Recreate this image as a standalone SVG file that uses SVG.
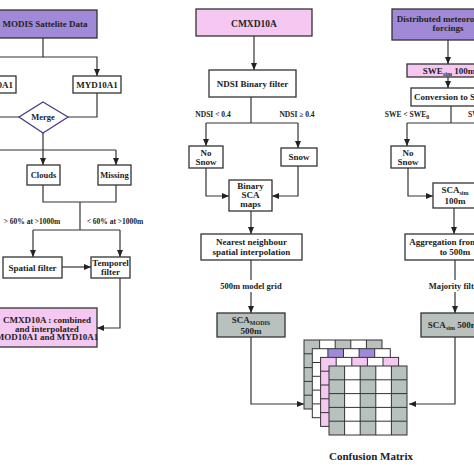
<svg xmlns="http://www.w3.org/2000/svg" width="474" height="474" viewBox="0 0 474 474">
<style>
.b{fill:#fff;stroke:#333;stroke-width:1.3}
.pu{fill:#a08ad8}
.pk{fill:#f4c8f1}
.gy{fill:#b8c1be}
.t{font-family:"Liberation Serif",serif;font-weight:bold;font-size:9px;fill:#222;text-anchor:middle}
.s{font-size:7.5px}
.sub{font-size:6px}
.c{fill:none;stroke:#333;stroke-width:1.2}
.a{marker-end:url(#ah)}
.g{fill:none;stroke:#333;stroke-width:1}
</style>
<defs>
<marker id="ah" markerUnits="userSpaceOnUse" markerWidth="7" markerHeight="6" refX="7" refY="3" orient="auto">
<path d="M0,0 L7,3 L0,6 z" fill="#222"/>
</marker>
<g id="grid">
<rect x="0" y="0" width="78" height="69" class="g"/>
<path class="g" d="M15.6,0V69M31.2,0V69M46.8,0V69M62.4,0V69M0,13.8H78M0,27.6H78M0,41.4H78M0,55.2H78"/>
</g>
</defs>
<rect width="474" height="474" fill="#fff"/>

<g id="connectors">
<path class="c" d="M43,38V57H-8"/>
<path class="c a" d="M43,57H97V76"/>
<path class="c" d="M-8,93V117H19"/>
<path class="c" d="M97,93V117H68"/>
<path class="c" d="M43,133V150"/>
<path class="c" d="M0,150H116"/>
<path class="c a" d="M43,150V165"/>
<path class="c a" d="M116,150V165"/>
<path class="c" d="M43,185V202H116V185"/>
<path class="c" d="M80,202V230"/>
<path class="c" d="M33,230H120"/>
<path class="c a" d="M33,230V257"/>
<path class="c a" d="M120,230V257"/>
<path class="c a" d="M62,267H91"/>
<path class="c a" d="M120,278V328H97"/>

<path class="c a" d="M254,36V70"/>
<path class="c" d="M251,97V123"/>
<path class="c" d="M206,123H298"/>
<path class="c a" d="M206,123V146"/>
<path class="c a" d="M298,123V148"/>
<path class="c a" d="M206,168V196H229"/>
<path class="c a" d="M298,166V196H272"/>
<path class="c a" d="M251,211V234"/>
<path class="c a" d="M251,260V313"/>
<path class="c a" d="M251,337V404H304"/>

<path class="c a" d="M448,40V64"/>
<path class="c a" d="M448,77V88"/>
<path class="c" d="M451,106V123"/>
<path class="c" d="M407,123H480"/>
<path class="c a" d="M407,123V146"/>
<path class="c a" d="M408,168V196H433"/>
<path class="c a" d="M454,208V234"/>
<path class="c a" d="M455,260V313"/>
<path class="c a" d="M455,337V404H409"/>
</g>

<g id="edge-labels">
<text class="t s" x="32" y="224">&gt; 60% at &gt;1000m</text>
<text class="t s" x="115" y="224">&lt; 60% at  &gt;1000m</text>
<text class="t s" x="213" y="117">NDSI &lt; 0.4</text>
<text class="t s" x="297" y="117">NDSI ≥ 0.4</text>
<rect x="218" y="280" width="66" height="12" fill="#fff"/>
<text class="t" x="251" y="289" style="font-size:8.5px">500m model grid</text>
<text class="t s" x="407" y="117">SWE &lt; SWE<tspan class="sub" dy="1.5">0</tspan></text>
<text class="t s" x="468" y="117" style="text-anchor:start">SWE ≥ SWE<tspan class="sub" dy="1.5">0</tspan></text>
<rect x="426" y="280" width="60" height="12" fill="#fff"/>
<text class="t" x="455" y="289" style="font-size:8.5px">Majority filter</text>
</g>

<g id="modis">
<rect class="b pu" x="-2" y="10" width="99" height="28"/>
<text class="t" x="45" y="27">MODIS Sattelite Data</text>
</g>
<g id="mod10a1">
<rect class="b" x="-32" y="76" width="48" height="17"/>
<text class="t" x="-8" y="87.5">MOD10A1</text>
</g>
<g id="myd10a1">
<rect class="b" x="73" y="76" width="48" height="17"/>
<text class="t" x="97" y="87.5">MYD10A1</text>
</g>
<g id="merge">
<polygon points="43,102 68,117 43,133 19,117" fill="#fff" stroke="#4a3b86" stroke-width="1.3"/>
<text class="t" x="43" y="120" style="font-size:8.5px">Merge</text>
</g>
<g id="clouds">
<rect class="b" x="27" y="165" width="33" height="20"/>
<text class="t" x="43.5" y="178" style="font-size:8.5px">Clouds</text>
</g>
<g id="missing">
<rect class="b" x="98" y="165" width="33" height="20"/>
<text class="t" x="114.5" y="178" style="font-size:8.5px">Missing</text>
</g>
<g id="spatial">
<rect class="b" x="3" y="257" width="59" height="21"/>
<text class="t" x="32.5" y="270.5">Spatial filter</text>
</g>
<g id="temporel">
<rect class="b" x="91" y="257" width="39" height="21"/>
<text class="t" x="110.5" y="265.5">Temporel</text>
<text class="t" x="110.5" y="275">filter</text>
</g>
<g id="cmxd-combined">
<rect class="b pk" x="-5" y="308" width="102" height="39"/>
<text class="t" x="47" y="323">CMXD10A : combined</text>
<text class="t" x="47" y="331.5">and interpolated</text>
<text class="t" x="47" y="340">MOD10A1 and MYD10A1</text>
</g>

<g id="cmxd10a">
<rect class="b pk" x="196" y="9" width="116" height="27"/>
<text class="t" x="254" y="26.5" style="font-size:9.5px">CMXD10A</text>
</g>
<g id="ndsi">
<rect class="b" x="209" y="70" width="87" height="27"/>
<text class="t" x="252.5" y="86.5">NDSI Binary filter</text>
</g>
<g id="nosnow-mid">
<rect class="b" x="189" y="146" width="34" height="22"/>
<text class="t" x="206" y="155.5">No</text>
<text class="t" x="206" y="164.5">Snow</text>
</g>
<g id="snow-mid">
<rect class="b" x="281" y="148" width="36" height="18"/>
<text class="t" x="299" y="160">Snow</text>
</g>
<g id="binary-sca">
<rect class="b" x="229" y="180" width="43" height="31"/>
<text class="t" x="250.5" y="189">Binary</text>
<text class="t" x="250.5" y="198">SCA</text>
<text class="t" x="250.5" y="207">maps</text>
</g>
<g id="nearest">
<rect class="b" x="201" y="234" width="101" height="26"/>
<text class="t" x="251.5" y="245">Nearest neighbour</text>
<text class="t" x="251.5" y="255">spatial interpolation</text>
</g>
<g id="sca-modis">
<rect class="b gy" x="217" y="313" width="68" height="24"/>
<text class="t" x="251" y="323">SCA<tspan class="sub" dy="1.5">MODIS</tspan></text>
<text class="t" x="251" y="333.5">500m</text>
</g>

<g id="forcings">
<rect class="b pu" x="392" y="9" width="115" height="31"/>
<text class="t" x="448" y="21.5">Distributed meteorological</text>
<text class="t" x="448" y="31">forcings</text>
</g>
<g id="swe-sim">
<rect class="b pk" x="407" y="64" width="85" height="13"/>
<text class="t" x="449" y="74">SWE<tspan class="sub" dy="1.5">sim</tspan><tspan dy="-1.5"> 100m</tspan></text>
</g>
<g id="conversion">
<rect class="b" x="411" y="88" width="80" height="18"/>
<text class="t" x="451" y="100">Conversion to SCA</text>
</g>
<g id="nosnow-right">
<rect class="b" x="391" y="146" width="34" height="22"/>
<text class="t" x="408" y="155.5">No</text>
<text class="t" x="408" y="164.5">Snow</text>
</g>
<g id="sca-sim-100">
<rect class="b" x="433" y="183" width="46" height="25"/>
<text class="t" x="455" y="193">SCA<tspan class="sub" dy="1.5">sim</tspan></text>
<text class="t" x="455" y="203.5">100m</text>
</g>
<g id="aggregation">
<rect class="b" x="405" y="234" width="100" height="26"/>
<text class="t" x="455" y="245">Aggregation from 100m</text>
<text class="t" x="455" y="255">to 500m</text>
</g>
<g id="sca-sim-500">
<rect class="b gy" x="421" y="313" width="70" height="24"/>
<text class="t" x="453" y="328">SCA<tspan class="sub" dy="1.5">sim</tspan><tspan dy="-1.5"> 500m</tspan></text>
</g>

<g id="confusion-matrix">
<g transform="translate(304,340)">
<rect width="78" height="69" fill="#fff"/>
<rect x="0" width="15.6" height="69" class="gy"/><rect x="31.2" width="15.6" height="69" class="gy"/><rect x="62.4" width="15.6" height="69" class="gy"/>
<use href="#grid"/>
</g>
<g transform="translate(312.3,348.7)">
<rect width="78" height="69" fill="#fff"/>
<rect x="15.6" width="15.6" height="69" class="pu"/><rect x="46.8" width="15.6" height="69" class="pu"/>
<use href="#grid"/>
</g>
<g transform="translate(320.6,357.4)">
<rect width="78" height="69" fill="#fff"/>
<rect x="0" width="15.6" height="69" class="pk"/><rect x="31.2" width="15.6" height="69" class="pk"/><rect x="62.4" width="15.6" height="69" class="pk"/>
<use href="#grid"/>
</g>
<g transform="translate(329,366)">
<rect width="78" height="69" fill="#fff"/>
<rect x="0" width="15.6" height="69" class="gy"/><rect x="31.2" width="15.6" height="69" class="gy"/><rect x="62.4" width="15.6" height="69" class="gy"/>
<use href="#grid"/>
</g>
<text class="t" x="371" y="460" style="font-size:11px">Confusion Matrix</text>
</g>
</svg>
